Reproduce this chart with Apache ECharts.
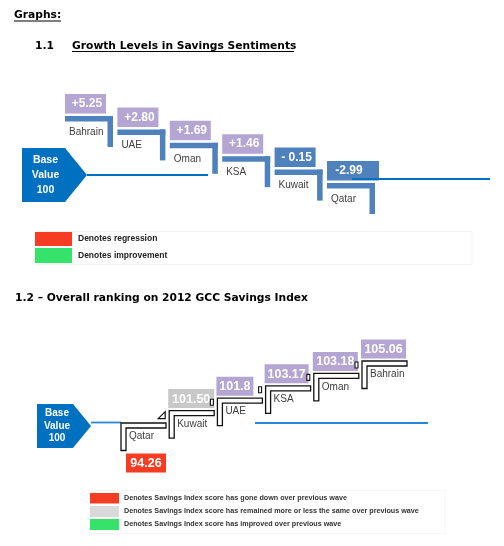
<!DOCTYPE html>
<html><head><meta charset="utf-8">
<script src="https://cdn.jsdelivr.net/npm/echarts@6/dist/echarts.min.js"></script>
<style>html,body{margin:0;padding:0;background:#fff}#c{width:504px;height:546px}</style>
</head><body><div id="c"></div>
<script>
// ---------- data ----------
const countries1 = ['Bahrain', 'UAE', 'Oman', 'KSA', 'Kuwait', 'Qatar'];
const values1 = [5.25, 2.80, 1.69, 1.46, -0.15, -2.99];
const valueLabels1 = ['+5.25', '+2.80', '+1.69', '+1.46', '- 0.15', '-2.99'];

const countries2 = ['Qatar', 'Kuwait', 'UAE', 'KSA', 'Oman', 'Bahrain'];
const values2 = [94.26, 101.50, 101.8, 103.17, 103.18, 105.06];
const valueLabels2 = ['94.26', '101.50', '101.8', '103.17', '103.18', '105.06'];
const status2 = ['down', 'same', 'none', 'none', 'none', 'none'];

const baseValue = 100;
const legend1Labels = ['Denotes regression', 'Denotes improvement'];
const legend2Labels = [
  'Denotes Savings Index score has gone down over previous wave',
  'Denotes Savings Index score has remained more or less the same over previous wave',
  'Denotes Savings Index score has improved over previous wave'
];

// ---------- styles ----------
const LAV = '#b4a5d2', BLUE = '#4f81bd', DARK = '#0070c0', LINE2 = '#2a86d8';
const RED = '#f63c22', GREEN = '#36e36a';
const TITLE_FONT = 'bold 10.7px "DejaVu Sans"';
const LABEL_FONT = '10px "Liberation Sans"';
const ARROW_FONT = 'bold 10.5px "Liberation Sans Narrow", "Liberation Sans"';
const BOX1_W = [41, 41, 41, 41, 41, 52];
const BOX2_W = [40, 46, 37, 44, 45, 45];

const chart = echarts.init(document.getElementById('c'), null, {renderer: 'canvas'});

function txt(text, x, y, font, fill, align, extra) {
  return Object.assign({type: 'text', style: {text: text, x: x, y: y, font: font, fill: fill,
    align: align || 'left', verticalAlign: 'middle'}}, extra || {});
}
function arrow(x0, y0, xs, xt, y1, lines, dy, font) {
  const ym = (y0 + y1) / 2;
  const els = [{type: 'polygon', shape: {points: [[x0, y0], [xs, y0], [xt, ym], [xs, y1], [x0, y1]]},
    style: {fill: DARK}}];
  const cx = (x0 + xs) / 2 + 2;
  lines.forEach((l, k) => els.push(txt(l, cx, ym + (k - 1) * dy, font, '#fff', 'center')));
  return els;
}

function render1(params, api) {
  const i = api.value(0);
  const p = api.coord([i, api.value(1)]);
  const cx = p[0], T = p[1];
  const v = values1[i];
  const bw = BOX1_W[i];
  const col = v >= 0 ? LAV : BLUE;
  return {type: 'group', children: [
    {type: 'rect', shape: {x: cx - 20.5, y: T - 22, width: bw, height: 19.5}, style: {fill: col}},
    txt(valueLabels1[i], cx + 1.5, T - 12.2, 'bold 12px "Liberation Sans"', '#fff', 'center'),
    {type: 'rect', shape: {x: cx - 20.5, y: T, width: 48, height: 5.5}, style: {fill: BLUE}},
    {type: 'rect', shape: {x: cx + 22, y: T, width: 5.5, height: 31}, style: {fill: BLUE}},
    txt(countries1[i], cx - 16.5, T + 16, LABEL_FONT, '#404040', 'left')
  ]};
}

function render2(params, api) {
  const i = api.value(0);
  const p = api.coord([i, api.value(1)]);
  const cx = p[0], T = p[1];
  const L = cx - 22, R = cx + 23;
  const st = status2[i];
  const font = 'bold 12.5px "Liberation Sans"';
  const w = BOX2_W[i];
  const col = st === 'down' ? RED : (st === 'same' ? '#c8c8c8' : LAV);
  let bx, by;
  if (st === 'down') { bx = L + 5; by = T + 30.5; } else { bx = L - 1; by = T - 21.5; }
  const ch = [
    {type: 'polygon', shape: {points: [[L, T], [R, T], [R, T + 5], [L + 5, T + 5], [L + 5, T + 27.5], [L, T + 27.5]]},
      style: {fill: '#fff', stroke: '#111', lineWidth: 1.3}},
    txt(countries2[i], L + 8, T + 13.5, LABEL_FONT, '#404040', 'left'),
    {type: 'rect', shape: {x: bx, y: by, width: w, height: 19}, style: {fill: col}},
    txt(valueLabels2[i], bx + w / 2, by + 10, font, '#fff', 'center')
  ];
  if (i === 1) {
    ch.push({type: 'polygon', shape: {points: [[L - 11, T + 8], [L - 4, T + 1], [L - 4, T + 8]]},
      style: {fill: '#fff', stroke: '#111', lineWidth: 1.2}});
  } else if (i > 1) {
    ch.push({type: 'rect', shape: {x: L - 7, y: T + 1, width: 3, height: 6},
      style: {fill: '#fff', stroke: '#111', lineWidth: 1.1}});
  }
  return {type: 'group', children: ch};
}

const graphics = [
  txt('Graphs:', 14, 15, TITLE_FONT, '#000'),
  {type: 'line', shape: {x1: 14, y1: 21, x2: 61, y2: 21}, style: {stroke: '#000', lineWidth: 1}},
  txt('1.1', 35, 46, TITLE_FONT, '#000'),
  txt('Growth Levels in Savings Sentiments', 72, 46, TITLE_FONT, '#000'),
  {type: 'line', shape: {x1: 72, y1: 51.5, x2: 294, y2: 51.5}, style: {stroke: '#000', lineWidth: 1}},
  txt('1.2 \u2013 Overall ranking on 2012 GCC Savings Index', 15, 298, TITLE_FONT, '#000'),
  // chart 1.1 base
  ...arrow(22, 148, 65, 87, 202, ['Base', 'Value', String(baseValue)], 15, ARROW_FONT),
  {type: 'line', shape: {x1: 87, y1: 175, x2: 208, y2: 175}, style: {stroke: DARK, lineWidth: 2}},
  {type: 'line', z: 10, shape: {x1: 352, y1: 179, x2: 490, y2: 179}, style: {stroke: DARK, lineWidth: 2}},
  // legend 1.1
  {type: 'rect', shape: {x: 35, y: 231.5, width: 437, height: 33}, style: {fill: 'none', stroke: '#f3f3f3', lineWidth: 1}},
  {type: 'rect', shape: {x: 35, y: 232, width: 37, height: 14}, style: {fill: RED}},
  {type: 'rect', shape: {x: 35, y: 248, width: 37, height: 15}, style: {fill: GREEN}},
  txt(legend1Labels[0], 78, 239, 'bold 8.5px "Liberation Sans"', '#222'),
  txt(legend1Labels[1], 78, 256, 'bold 8.5px "Liberation Sans"', '#222'),
  // chart 1.2 base
  ...arrow(37, 404, 73, 91, 448, ['Base', 'Value', String(baseValue)], 12.5, 'bold 10px "Liberation Sans Narrow", "Liberation Sans"'),
  {type: 'line', shape: {x1: 91, y1: 422.5, x2: 121, y2: 422.5}, style: {stroke: LINE2, lineWidth: 1.8}},
  {type: 'line', shape: {x1: 255, y1: 423, x2: 428, y2: 423}, style: {stroke: LINE2, lineWidth: 1.8}},
  // legend 1.2
  {type: 'rect', shape: {x: 90, y: 490.5, width: 355, height: 43}, style: {fill: 'none', stroke: '#f5f5f5', lineWidth: 1}},
  {type: 'rect', shape: {x: 90, y: 493, width: 29, height: 10.5}, style: {fill: RED}},
  {type: 'rect', shape: {x: 90, y: 506, width: 29, height: 11}, style: {fill: '#d9d9d9'}},
  {type: 'rect', shape: {x: 90, y: 519, width: 29, height: 11}, style: {fill: GREEN}},
  txt(legend2Labels[0], 124, 498.5, 'bold 7.2px "Liberation Sans"', '#333'),
  txt(legend2Labels[1], 124, 511.5, 'bold 7.2px "Liberation Sans"', '#333'),
  txt(legend2Labels[2], 124, 524.5, 'bold 7.2px "Liberation Sans"', '#333')
];

chart.setOption({
  animation: false,
  grid: [
    {left: 59.3, width: 314.4, top: 116, height: 134},
    {left: 118.9, width: 289.2, top: 299, height: 124}
  ],
  xAxis: [
    {type: 'category', gridIndex: 0, data: countries1, show: false},
    {type: 'category', gridIndex: 1, data: countries2, show: false}
  ],
  yAxis: [
    {type: 'value', gridIndex: 0, min: 0, max: 10, inverse: true, show: false},
    {type: 'value', gridIndex: 1, min: 0, max: 10, show: false}
  ],
  graphic: graphics,
  series: [
    {type: 'custom', xAxisIndex: 0, yAxisIndex: 0, renderItem: render1,
      encode: {x: 0, y: 1}, data: countries1.map((c, i) => [i, i, values1[i]])},
    {type: 'custom', xAxisIndex: 1, yAxisIndex: 1, renderItem: render2,
      encode: {x: 0, y: 1}, data: countries2.map((c, i) => [i, i, values2[i]])}
  ]
});
</script></body></html>
